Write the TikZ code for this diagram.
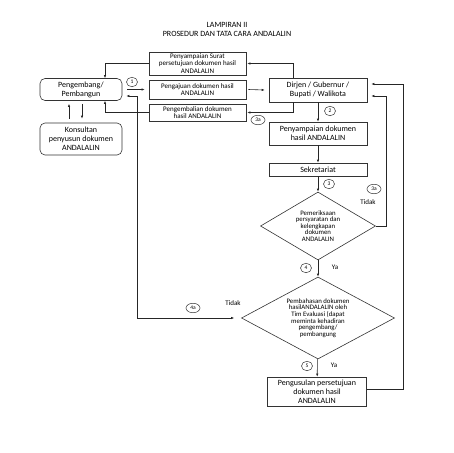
\documentclass[tikz,border=0pt]{standalone}
\usepackage{fontspec}
\setmainfont{Carlito}
\usetikzlibrary{shapes.geometric,arrows.meta}

\begin{document}
\begin{tikzpicture}[x=1pt, y=-1pt,
    kotak/.style={draw=black!80, line width=0.6pt, align=center, inner sep=1pt, font=\fontsize{8}{9}\selectfont},
    kotakkecil/.style={kotak, font=\fontsize{7}{7.6}\selectfont},
    bulat/.style={kotak, rounded corners=5pt},
    belah/.style={draw=black!80, line width=0.6pt, shape=diamond, align=center, inner sep=0pt, font=\fontsize{6.8}{6.6}\selectfont},
    nomor/.style={draw=black!80, line width=0.5pt, ellipse, inner sep=0pt, minimum width=11pt, minimum height=9.5pt, font=\fontsize{5.5}{5.5}\selectfont},
    ket/.style={font=\fontsize{7}{8}\selectfont},
    panah/.style={draw=black!85, line width=0.6pt, -{Latex[length=3pt,width=2.4pt]}},
    garis/.style={draw=black!85, line width=0.6pt}]

    \useasboundingbox (0,0) rectangle (453,453);

    % Judul
    \node[font=\fontsize{8}{9}\selectfont] (judul) at (227,25) {LAMPIRAN II};
    \node[font=\fontsize{8}{9}\selectfont] (subjudul) at (227,34) {PROSEDUR DAN TATA CARA ANDALALIN};

    % Pemrakarsa
    \node[bulat, minimum width=82pt, minimum height=22pt] (pengembang) at (81,89.5) {Pengembang/\\ Pembangun};
    \node[bulat, minimum width=82pt, minimum height=32pt] (konsultan) at (81,139) {Konsultan\\ penyusun dokumen\\ ANDALALIN};

    % Dokumen di tengah
    \node[kotakkecil, minimum width=97pt, minimum height=23pt] (surat) at (197.5,63.5) {Penyampaian Surat\\ persetujuan dokumen hasil\\ ANDALALIN};
    \node[kotakkecil, minimum width=97pt, minimum height=19pt] (pengajuan) at (197.5,89.5) {Pengajuan dokumen hasil\\ ANDALALIN};
    \node[kotakkecil, minimum width=97pt, minimum height=17pt] (pengembalian) at (197.5,112.5) {Pengembalian dokumen\\ hasil ANDALALIN};

    % Alur utama
    \node[kotak, minimum width=98pt, minimum height=24pt] (dirjen) at (318,90) {Dirjen / Gubernur /\\ Bupati / Walikota};
    \node[kotak, minimum width=98pt, minimum height=23pt] (penyampaian) at (318,133.5) {Penyampaian dokumen\\ hasil ANDALALIN};
    \node[kotak, minimum width=98pt, minimum height=13pt] (sekretariat) at (318,169.5) {Sekretariat};
    \node[belah, aspect=1.69, minimum width=115pt, minimum height=68pt] (periksa) at (318,226) {Pemeriksaan\\ persyaratan dan\\ kelengkapan\\ dokumen\\ ANDALALIN};
    \node[belah, aspect=1.87, minimum width=153pt, minimum height=82pt] (bahas) at (318,318) {Pembahasan dokumen\\ hasilANDALALIN oleh\\ Tim Evaluasi (dapat\\ meminta kehadiran\\ pengembang/\\ pembangung};
    \node[kotak, minimum width=99pt, minimum height=29pt] (usulan) at (317,391.5) {Pengusulan persetujuan\\ dokumen hasil\\ ANDALALIN};

    % Nomor langkah
    \node[nomor] (n1) at (132,82) {1};
    \node[nomor] (n2) at (330,111) {2};
    \node[nomor, minimum width=14pt] (n3a) at (258,120) {3a};
    \node[nomor] (n3) at (329,184) {3};
    \node[nomor, minimum width=14pt] (n3b) at (374,189) {3a};
    \node[nomor] (n4) at (306,268) {4};
    \node[nomor, minimum width=14pt] (n4a) at (193,308) {4a};
    \node[nomor] (n5) at (307,366) {5};

    % Keterangan
    \node[ket] (tidak1) at (368,202) {Tidak};
    \node[ket] (ya1) at (335,267) {Ya};
    \node[ket] (tidak2) at (233,303) {Tidak};
    \node[ket] (ya2) at (334,365) {Ya};

    % Konsultan dan pengembang
    \draw[panah] ([xshift=-12pt,yshift=4pt]konsultan.north) -- ([xshift=-12pt,yshift=-3pt]pengembang.south);
    \draw[panah] ([xshift=1pt,yshift=-3pt]pengembang.south) -- ([xshift=1pt,yshift=4pt]konsultan.north);

    % Surat persetujuan kembali ke pengembang
    \draw[panah] ([xshift=-25pt]dirjen.north) |- ([xshift=1pt]surat.east);
    \draw[panah] (surat.west) -| ([xshift=24pt]pengembang.north);

    % Pengajuan
    \draw[panah] ([xshift=5pt]pengembang.east) -- ([xshift=-4pt]pengajuan.west);
    \draw[panah] ([xshift=2pt]pengajuan.east) -- ([xshift=-4pt]dirjen.west);

    % Pengembalian
    \draw[panah] ([xshift=-25pt]dirjen.south) |- ([xshift=1pt]pengembalian.east);
    \draw[panah] (pengembalian.west) -| ([xshift=24pt]pengembang.south);

    % Alur utama ke bawah
    \draw[panah] (dirjen) -- (penyampaian);
    \draw[panah] (penyampaian) -- (sekretariat);
    \draw[panah] (sekretariat) -- (periksa);
    \draw[panah] (periksa) -- (bahas);
    \draw[panah] (bahas) -- (usulan);

    % Tidak lengkap
    \coordinate (belok1) at ([xshift=10pt]periksa.east);
    \draw[panah] (periksa.east) -- (belok1) |- ([xshift=4pt,yshift=-6pt]dirjen.east);

    % Tidak disetujui
    \coordinate (belok2) at (137,318);
    \draw[panah] (belok2) |- ([xshift=4pt,yshift=-6.5pt]pengembang.east);
    \draw[panah] (belok2) -- ([xshift=-7pt]bahas.west);

    % Usulan ke Dirjen
    \coordinate (belok3) at (403,389);
    \draw[panah] ([yshift=2.5pt]usulan.east) -- (belok3) |- ([xshift=4pt,yshift=6pt]dirjen.east);
\end{tikzpicture}
\end{document}
